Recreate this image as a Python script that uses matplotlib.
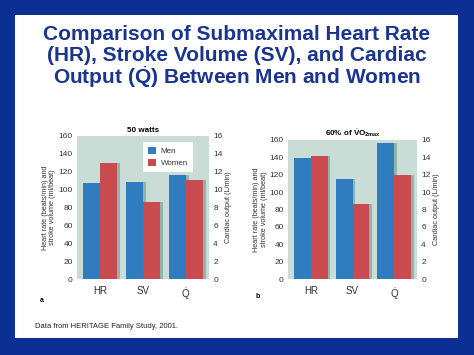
import matplotlib
matplotlib.use("Agg")
import matplotlib.pyplot as plt
import numpy as np
from matplotlib.patches import Rectangle

plt.rcParams['font.family'] = ['Liberation Sans', 'DejaVu Sans']
plt.rcParams['mathtext.fontset'] = 'custom'
plt.rcParams['mathtext.rm'] = 'Liberation Sans'
plt.rcParams['mathtext.it'] = 'Liberation Sans'
plt.rcParams['mathtext.bf'] = 'Liberation Sans:bold'

# data
categories = ["HR", "SV", r"$\dot{Q}$"]
# HR (beats/min), SV (ml/beat) on left axis; Q (L/min) on right axis
men_50w = [107, 109, 11.6]
women_50w = [130, 86, 11.1]
men_60 = [139, 115, 15.7]
women_60 = [142, 86, 12.0]

blue = "#2f7dbf"
red = "#c94b4f"
bg = "#c9ddd6"
shadow = "#8fb5ab"
navy = "#0b2f93"
title_col = "#1a3590"
txt = "#333333"

W, H = 474, 355
fig = plt.figure(figsize=(W / 100, H / 100), dpi=100)
fig.patch.set_facecolor(navy)
# white slide area
fig.patches.append(Rectangle((15 / W, 1 - 338 / H), 443 / W, 323 / H,
                             transform=fig.transFigure, facecolor="white",
                             edgecolor="none", zorder=-5))

title_lines = ["Comparison of Submaximal Heart Rate",
               "(HR), Stroke Volume (SV), and Cardiac",
               r"Output ($\dot{\mathbf{Q}}$) Between Men and Women"]
for k, line in enumerate(title_lines):
    fig.text(237 / W, 1 - (34 + 21.5 * k) / H, line,
             ha="center", va="center", fontsize=15, fontweight="bold",
             color=title_col)


def panel(rect, men, women, title, letter, letter_xy, legend=False):
    ax = fig.add_axes(rect)
    ax.set_facecolor(bg)
    ax2 = ax.twinx()
    x = np.arange(len(categories))
    w = 0.4
    off = 0.07
    for i in range(len(categories)):
        a = ax if i < 2 else ax2
        a.bar(x[i] - w / 2 + off, men[i], w, color=shadow, zorder=1)
        a.bar(x[i] + w / 2 + off, women[i], w, color=shadow, zorder=1)
        a.bar(x[i] - w / 2, men[i], w, color=blue, zorder=2,
              label="Men" if i == 0 else None)
        a.bar(x[i] + w / 2, women[i], w, color=red, zorder=2,
              label="Women" if i == 0 else None)
    ax.set_xlim(-0.55, 2.55)
    ax.set_ylim(0, 160)
    ax2.set_ylim(0, 16)
    ax.set_yticks(range(0, 161, 20))
    ax2.set_yticks(range(0, 17, 2))
    ax.set_xticks(x)
    ax.set_xticklabels(categories)
    for a in (ax, ax2):
        for s in a.spines.values():
            s.set_visible(False)
        a.tick_params(length=0, labelsize=6, colors=txt, pad=3)
    ax.tick_params(axis="x", labelsize=7, pad=5)
    ax.set_ylabel("Heart rate (beats/min) and\nstroke volume (ml/beat)",
                  fontsize=5.2, color=txt, labelpad=1.5, linespacing=1.05)
    ax2.set_ylabel("Cardiac output (L/min)", fontsize=5.2, color=txt,
                   labelpad=1.5)
    ax.set_title(title, fontsize=5.8, fontweight="bold", pad=3)
    fig.text(letter_xy[0] / W, 1 - letter_xy[1] / H, letter, fontsize=5,
             fontweight="bold", ha="center", va="center")
    if legend:
        h1, l1 = ax.get_legend_handles_labels()
        leg = ax2.legend(h1, l1, loc="upper right", bbox_to_anchor=(0.89, 0.97),
                         fontsize=5.8, frameon=True, fancybox=False,
                         handlelength=1.0, handleheight=1.0, borderpad=0.6,
                         labelspacing=0.45, handletextpad=0.6,
                         borderaxespad=0.2)
        leg.get_frame().set_edgecolor("white")
        leg.get_frame().set_linewidth(0)
        leg.get_frame().set_alpha(1)
        for t in leg.get_texts():
            t.set_color(txt)
    return ax


panel([77 / W, 1 - 279 / H, 132 / W, 143 / H], men_50w, women_50w,
      "50 watts", "a", (42, 301), legend=True)
panel([288 / W, 1 - 279 / H, 129 / W, 139 / H], men_60, women_60,
      r"60% of $\dot{\mathbf{V}}\mathbf{O}_{\mathbf{2max}}$", "b", (258, 296))

fig.text(35 / W, 1 - 327 / H, "Data from HERITAGE Family Study, 2001.",
         fontsize=5.5, ha="left", va="center", color="#222222")

fig.savefig("out.png", dpi=100, facecolor=fig.get_facecolor())
